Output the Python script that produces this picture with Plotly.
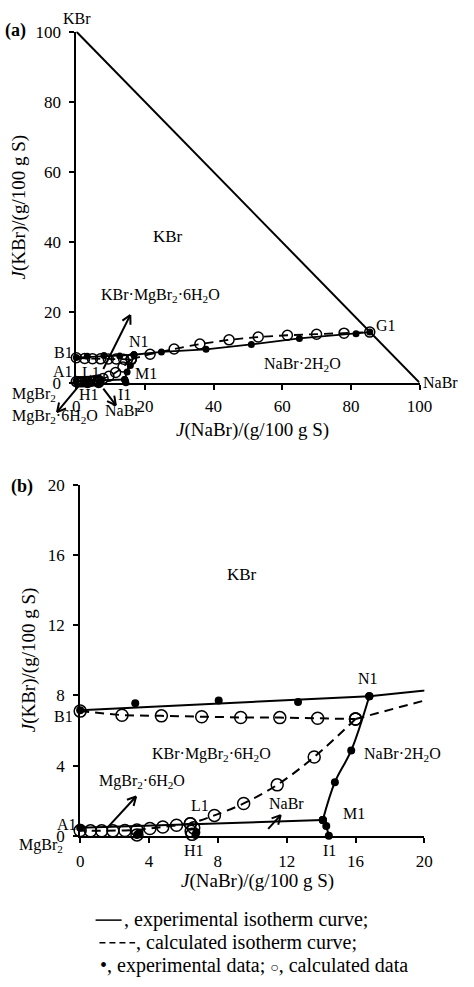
import math
import numpy as np
import plotly.graph_objects as go

# ---------------- data (J, g/100 g S) ----------------
# experimental data points
exp_B1N1_x = [0.0, 3.2, 8.05, 12.66, 16.8]
exp_B1N1_y = [7.15, 7.55, 7.71, 7.62, 7.95]
exp_N1G1_x = [16.8, 24.8, 37.8, 51.0, 65.0, 81.5, 85.5]
exp_N1G1_y = [7.95, 8.75, 9.5, 10.9, 12.6, 13.9, 14.4]
exp_N1M1_x = [16.8, 15.75, 14.8, 14.1]
exp_N1M1_y = [7.95, 4.86, 3.05, 0.9]
exp_M1I1_x = [14.1, 14.3, 14.45]
exp_M1I1_y = [0.9, 0.55, 0.0]
exp_A1M1_x = [0.0, 14.1]
exp_A1M1_y = [0.45, 0.9]
exp_axis_x = [3.3, 3.4, 6.7, 6.75]
exp_axis_y = [0.05, 0.15, 0.05, 0.2]

# experimental isotherm curves
curve_B1N1_x = [0.0, 16.8]
curve_B1N1_y = [7.15, 7.95]

# calculated data
calc_B1P_x = [0.0, 2.43, 4.72, 7.06, 9.33, 11.6, 13.8, 16.0]
calc_B1P_y = [7.1, 6.87, 6.83, 6.78, 6.74, 6.73, 6.69, 6.65]
calc_PG1_x = [16.0, 21.5, 28.5, 36.0, 44.5, 53.0, 61.5, 70.0, 78.0, 85.5]
calc_PG1_y = [6.65, 8.1, 9.6, 11.0, 12.2, 13.0, 13.5, 13.8, 14.1, 14.4]
calc_PL1_x = [16.0, 13.6, 11.45, 9.5, 7.8, 6.4]
calc_PL1_y = [6.65, 4.49, 2.9, 1.84, 1.16, 0.69]
calc_L1A1_x = [6.4, 5.6, 4.8, 4.05, 3.3, 2.6, 1.9, 1.25, 0.6, 0.0]
calc_L1A1_y = [0.69, 0.6, 0.5, 0.41, 0.33, 0.3, 0.28, 0.28, 0.28, 0.3]
calc_axis_x = [3.3, 6.45, 6.5, 6.6]
calc_axis_y = [0.05, 0.26, 0.08, 0.45]

# ternary boundary KBr - NaBr
tri_x = [0.0, 100.0]
tri_y = [100.0, 0.0]

ticks_a = [0, 20, 40, 60, 80, 100]
ticks_b = [0, 4, 8, 12, 16, 20]

W, H = 474, 987
FONT = "Liberation Serif"

fig = go.Figure()

exp_curves = [
    (curve_B1N1_x, curve_B1N1_y, "linear"),
    (exp_N1G1_x, exp_N1G1_y, "linear"),
    (exp_N1M1_x, exp_N1M1_y, "spline"),
    (exp_M1I1_x, exp_M1I1_y, "linear"),
    (exp_A1M1_x, exp_A1M1_y, "linear"),
]
calc_curves = [
    (calc_B1P_x, calc_B1P_y, "linear"),
    (calc_PG1_x, calc_PG1_y, "linear"),
    (calc_PL1_x, calc_PL1_y, "spline"),
    (calc_L1A1_x, calc_L1A1_y, "linear"),
]
exp_pts_x = exp_B1N1_x + exp_N1G1_x + exp_N1M1_x + exp_M1I1_x + exp_A1M1_x + exp_axis_x
exp_pts_y = exp_B1N1_y + exp_N1G1_y + exp_N1M1_y + exp_M1I1_y + exp_A1M1_y + exp_axis_y
calc_pts_x = calc_B1P_x + calc_PG1_x + calc_PL1_x + calc_L1A1_x + calc_axis_x
calc_pts_y = calc_B1P_y + calc_PG1_y + calc_PL1_y + calc_L1A1_y + calc_axis_y

panels = [("x", "y", 100, 1.8, 7, 10), ("x2", "y2", 20, 2.0, 8, 12)]
for xa, ya, xmax, lw, s_exp, s_calc in panels:
    if xa == "x":
        fig.add_trace(go.Scatter(x=tri_x, y=tri_y, mode="lines", xaxis=xa, yaxis=ya,
                                 line=dict(color="black", width=2), hoverinfo="skip"))
    for cx, cy, shp in exp_curves:
        fig.add_trace(go.Scatter(x=cx, y=cy, mode="lines", xaxis=xa, yaxis=ya,
                                 line=dict(color="black", width=lw, shape=shp), hoverinfo="skip"))
    for cx, cy, shp in calc_curves:
        fig.add_trace(go.Scatter(x=cx, y=cy, mode="lines", xaxis=xa, yaxis=ya,
                                 line=dict(color="black", width=lw, dash="9px,6px", shape=shp),
                                 hoverinfo="skip"))
    ex = np.array(exp_pts_x); ey = np.array(exp_pts_y)
    m = ex <= xmax
    fig.add_trace(go.Scatter(x=ex[m], y=ey[m], mode="markers", xaxis=xa, yaxis=ya, cliponaxis=False,
                             marker=dict(color="black", size=s_exp, symbol="circle")))
    cxp = np.array(calc_pts_x); cyp = np.array(calc_pts_y)
    m = cxp <= xmax
    fig.add_trace(go.Scatter(x=cxp[m], y=cyp[m], mode="markers", xaxis=xa, yaxis=ya, cliponaxis=False,
                             marker=dict(color="black", size=s_calc, symbol="circle-open",
                                         line=dict(width=1.5, color="black"))))

axis_common = dict(showgrid=False, zeroline=False, showline=True, linecolor="black", linewidth=2,
                   ticks="outside", ticklen=5, tickwidth=1.5, tickcolor="black",
                   tickfont=dict(family=FONT, size=17, color="black"))

def px2paper(px, py):
    return px / W, 1 - py / H

fig.update_layout(
    width=W, height=H, margin=dict(l=0, r=0, t=0, b=0),
    paper_bgcolor="white", plot_bgcolor="white", showlegend=False,
    xaxis=dict(domain=[75 / W, 431 / W], range=[0, 100], tickvals=ticks_a, anchor="y",
               ticklabelstandoff=2, **axis_common),
    yaxis=dict(domain=[1 - 381 / H, 1 - 23 / H], range=[0, 100], tickvals=ticks_a, anchor="x",
               ticklabelstandoff=5, **axis_common),
    xaxis2=dict(domain=[79 / W, 436 / W], range=[0, 20], tickvals=ticks_b, anchor="y2",
                ticklabelstandoff=4, **axis_common),
    yaxis2=dict(domain=[1 - 843 / H, 1 - 485 / H], range=[0, 20], tickvals=ticks_b, anchor="x2",
                ticklabelstandoff=5, **axis_common),
)

SUB_MG = "MgBr<sub>2</sub>"
labels = [
    # panel a
    ("<b>(a)</b>", 12, 22, 18, 0),
    ("KBr", 76, 10, 16, 0),
    ("NaBr", 453, 381, 16, 0),
    ("KBr", 170, 232, 17, 0),
    ("KBr·" + SUB_MG + "·6H<sub>2</sub>O", 162, 292, 16, 0),
    ("N1", 140, 339, 16, 0),
    ("B1", 62, 350, 16, 0),
    ("A1", 61, 370, 16, 0),
    ("L1", 90, 371, 16, 0),
    ("M1", 147, 372, 16, 0),
    (SUB_MG, 31, 393, 16, 0),
    ("H1", 88, 393, 16, 0),
    ("I1", 125, 393, 16, 0),
    (SUB_MG + "·6H<sub>2</sub>O", 53, 416, 16, 0),
    ("NaBr", 123, 409, 16, 0),
    ("G1", 396, 323, 16, 0),
    ("NaBr·2H<sub>2</sub>O", 310, 362, 16, 0),
    ("<i>J</i>(NaBr)/(g/100 g S)", 258, 429, 19, 0),
    ("<i>J</i>(KBr)/(g/100 g S)", 16, 202, 19, -90),
    # panel b
    ("<b>(b)</b>", 19, 487, 18, 0),
    ("KBr", 247, 577, 17, 0),
    ("N1", 378, 683, 16, 0),
    ("B1", 62, 721, 16, 0),
    ("KBr·" + SUB_MG + "·6H<sub>2</sub>O", 215, 760, 16, 0),
    ("NaBr·2H<sub>2</sub>O", 413, 760, 16, 0),
    (SUB_MG + "·6H<sub>2</sub>O", 143, 788, 16, 0),
    ("L1", 203, 812, 16, 0),
    ("NaBr", 293, 810, 16, 0),
    ("M1", 363, 820, 16, 0),
    ("A1", 65, 832, 16, 0),
    (SUB_MG, 38, 853, 16, 0),
    ("H1", 197, 858, 16, 0),
    ("I1", 338, 858, 16, 0),
    ("<i>J</i>(NaBr)/(g/100 g S)", 263, 889, 19, 0),
    ("<i>J</i>(KBr)/(g/100 g S)", 26, 664, 19, -90),
]
for txt, px, py, sz, rot in labels:
    x, y = px2paper(px, py)
    fig.add_annotation(text=txt, x=x, y=y, xref="paper", yref="paper", showarrow=False,
                       xanchor="center", yanchor="middle", textangle=rot,
                       font=dict(family=FONT, size=sz, color="black"))

# legend block
legend_lines = [
    (", experimental isotherm curve;", 122, 928),
    (", calculated isotherm curve;", 135, 951),
    ("•, experimental data; <span style='font-size:14px'>○</span>, calculated data", 98, 975),
]
for txt, px, py in legend_lines:
    x, y = px2paper(px, py)
    fig.add_annotation(text=txt, x=x, y=y, xref="paper", yref="paper", showarrow=False,
                       xanchor="left", yanchor="middle",
                       font=dict(family=FONT, size=20, color="black"))

shapes = []
def seg(x0, y0, x1, y1, dash="solid", w=1.5):
    a0, b0 = px2paper(x0, y0)
    a1, b1 = px2paper(x1, y1)
    shapes.append(dict(type="line", xref="paper", yref="paper", x0=a0, y0=b0, x1=a1, y1=b1,
                       line=dict(color="black", width=w, dash=dash)))

def arrow(x0, y0, x1, y1, L=10, ang=28):
    seg(x0, y0, x1, y1, w=2)
    dx, dy = x0 - x1, y0 - y1
    n = math.hypot(dx, dy)
    dx, dy = dx / n, dy / n
    for s in (1, -1):
        a = math.radians(ang * s)
        rx = dx * math.cos(a) - dy * math.sin(a)
        ry = dx * math.sin(a) + dy * math.cos(a)
        seg(x1, y1, x1 + L * rx, y1 + L * ry, w=2)

# arrows (pixel positions of label pointers)
arrow(103, 367, 131, 312)
arrow(77, 385, 55, 411)
arrow(103, 387, 116, 404)
arrow(108, 834, 137, 803)
arrow(274, 836, 287, 822)
# legend symbols
seg(95, 929, 122, 929, w=1.5)
seg(99, 952, 136, 952, dash="6px,4px", w=1.5)

fig.update_layout(shapes=shapes)
fig.write_html("out.html")
